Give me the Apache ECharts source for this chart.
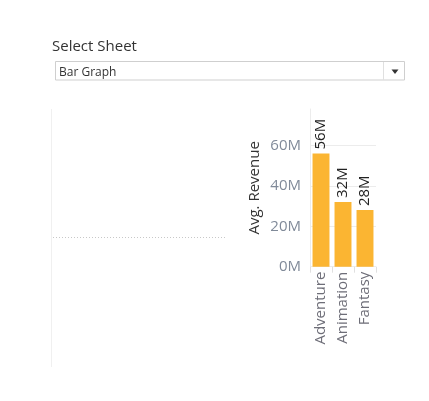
<!DOCTYPE html>
<html><head><meta charset="utf-8">
<script src="https://cdn.jsdelivr.net/npm/echarts@6/dist/echarts.min.js"></script>
<style>html,body{margin:0;padding:0;background:#fff}#c{width:429px;height:401px}</style>
</head><body><div id="c"></div>
<script>
const categories = ['Adventure', 'Animation', 'Fantasy'];
const avgRevenue = [56e6, 32e6, 28e6];
const yTicks = [0, 20e6, 40e6, 60e6];
const yMax = 78e6;
const yInterval = 20e6;

const chart = echarts.init(document.getElementById('c'), null, {renderer: 'canvas'});
const fmt = v => Math.round(v / 1e6) + 'M';
chart.setOption({
  animation: false,
  textStyle: {fontFamily: 'Open Sans'},
  grid: {left: 310, right: 53, top: 109, bottom: 134.3, containLabel: false},
  xAxis: {
    type: 'category', data: categories,
    axisLine: {show: false},
    axisTick: {show: true, length: 6, lineStyle: {color: '#e0e0e0'}},
    axisLabel: {rotate: 90, margin: 5, fontSize: 15, color: '#6e6e78', fontFamily: 'Open Sans'}
  },
  yAxis: {
    type: 'value', min: yTicks[0], max: yMax, interval: yInterval,
    name: 'Avg. Revenue', nameLocation: 'middle', nameGap: 48, nameRotate: 90,
    nameTextStyle: {fontSize: 15, color: '#333', fontFamily: 'Open Sans'},
    axisLine: {show: true, lineStyle: {color: '#ececec'}},
    axisTick: {show: false},
    axisLabel: {fontSize: 15, color: '#808a99', margin: 9, showMaxLabel: false, formatter: fmt},
    splitLine: {show: true, showMaxLine: false, lineStyle: {color: '#ececec'}}
  },
  series: [{
    type: 'bar', data: avgRevenue, barCategoryGap: '23%',
    itemStyle: {color: '#fbb532'},
    label: {show: true, position: 'top', rotate: 90, align: 'left', verticalAlign: 'middle',
      distance: 4, fontSize: 15, color: '#222', formatter: p => fmt(p.value)}
  }],
  graphic: [
    {type: 'text', left: 52, top: 39, style: {text: 'Select Sheet', fontSize: 15, fill: '#333', fontFamily: 'Open Sans'}},
    {type: 'rect', shape: {x: 55.5, y: 61.5, width: 349, height: 18.5}, style: {fill: '#fff', stroke: '#cfcfcf', lineWidth: 1}},
    {type: 'line', shape: {x1: 383.5, y1: 62, x2: 383.5, y2: 80}, style: {stroke: '#e0e0e0', lineWidth: 1}},
    {type: 'polygon', shape: {points: [[391.5, 69.5], [398.5, 69.5], [395, 74]]}, style: {fill: '#333'}},
    {type: 'text', left: 59, top: 67, style: {text: 'Bar Graph', fontSize: 12, fill: '#333', fontFamily: 'Open Sans'}},
    {type: 'line', shape: {x1: 51.5, y1: 109, x2: 51.5, y2: 367}, style: {stroke: '#f0f0f0', lineWidth: 1}},
    {type: 'line', shape: {x1: 53, y1: 237.5, x2: 226, y2: 237.5}, style: {stroke: '#c8c8c8', lineWidth: 1, lineDash: [1, 2]}}
  ]
});
</script></body></html>
